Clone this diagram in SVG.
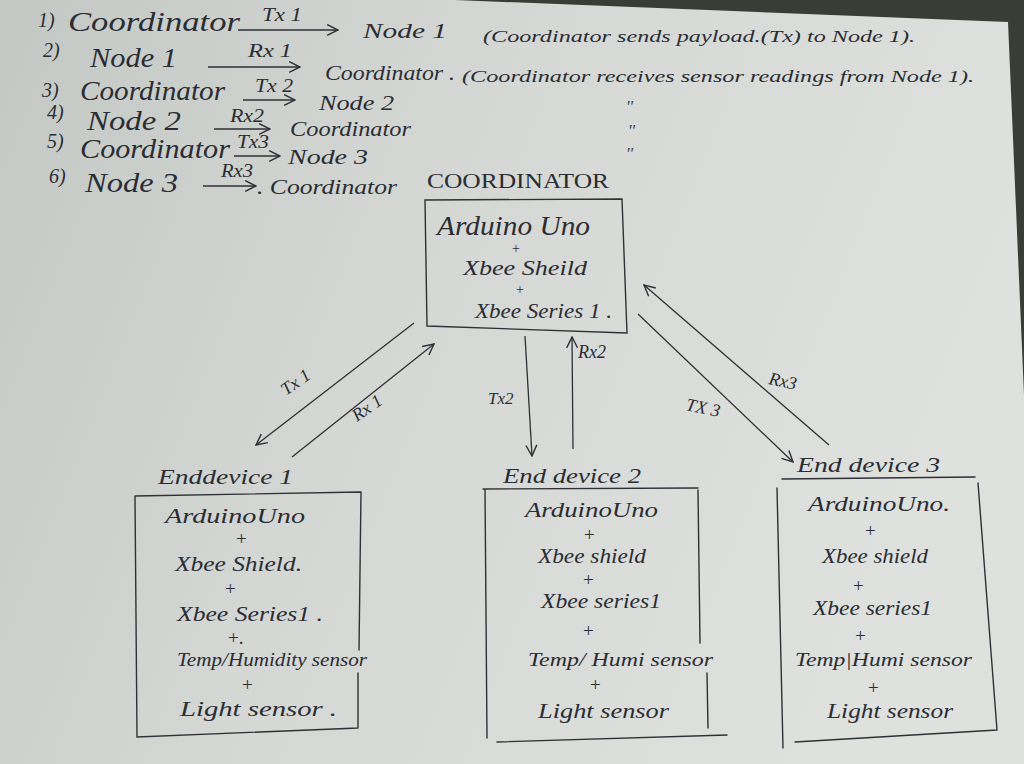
<svg xmlns="http://www.w3.org/2000/svg" width="1024" height="764" viewBox="0 0 1024 764">
<defs>
<linearGradient id="paper" x1="0" y1="0" x2="1" y2="0.3">
<stop offset="0" stop-color="#c4c8c4"/>
<stop offset="0.45" stop-color="#d4d7d3"/>
<stop offset="1" stop-color="#dfe1de"/>
</linearGradient>
<marker id="ah" viewBox="0 0 12 12" refX="11" refY="6" markerWidth="13" markerHeight="13" markerUnits="userSpaceOnUse" orient="auto">
<path d="M1,1 L11,6 L1,11" fill="none" stroke="#2d2f36" stroke-width="1.3"/>
</marker>
<style>
text{font-family:"Liberation Serif","DejaVu Serif",serif;font-style:italic;fill:#2b2d34}
.n{font-size:20px}
.big{font-size:27px}
.mid{font-size:22px}
.sm{font-size:18px}
.xs{font-size:17px}
.pl{font-size:16px}
.tp{font-size:14px;font-style:normal}
.plus{font-size:19px;font-style:normal}
.cap{font-style:normal;font-size:22px}
.ln{fill:none;stroke:#2f3137;stroke-width:1.4;stroke-linecap:round}
.ar{fill:none;stroke:#2f3137;stroke-width:1.3;marker-end:url(#ah)}
</style>
</defs>
<rect x="0" y="0" width="1024" height="764" fill="url(#paper)"/>
<polygon points="455,0 1024,0 1024,395 1008,22" fill="#3a3d35"/>

<g id="legend">
<text x="38" y="27" class="n">1)</text>
<text x="68" y="31" class="big" textLength="172" lengthAdjust="spacingAndGlyphs">Coordinator</text>
<text x="262" y="21" class="sm" textLength="40" lengthAdjust="spacingAndGlyphs">Tx 1</text>
<text x="363" y="38" class="mid" textLength="84" lengthAdjust="spacingAndGlyphs">Node 1</text>
<text x="483" y="42" class="xs" textLength="432" lengthAdjust="spacingAndGlyphs">(Coordinator sends payload.(Tx) to Node 1).</text>

<text x="43" y="57" class="n">2)</text>
<text x="90" y="67" class="big" textLength="87" lengthAdjust="spacingAndGlyphs">Node 1</text>
<text x="248" y="57" class="sm" textLength="44" lengthAdjust="spacingAndGlyphs">Rx 1</text>
<text x="325" y="80" class="mid" textLength="130" lengthAdjust="spacingAndGlyphs">Coordinator .</text>
<text x="462" y="82" class="xs" textLength="512" lengthAdjust="spacingAndGlyphs">(Coordinator receives sensor readings from Node 1).</text>

<text x="42" y="97" class="n">3)</text>
<text x="80" y="100" class="big" textLength="145" lengthAdjust="spacingAndGlyphs">Coordinator</text>
<text x="255" y="92" class="sm" textLength="38" lengthAdjust="spacingAndGlyphs">Tx 2</text>
<text x="319" y="110" class="mid" textLength="75" lengthAdjust="spacingAndGlyphs">Node 2</text>
<text x="626" y="112" class="pl">''</text>

<text x="47" y="119" class="n">4)</text>
<text x="87" y="130" class="big" textLength="94" lengthAdjust="spacingAndGlyphs">Node 2</text>
<text x="230" y="122" class="sm" textLength="34" lengthAdjust="spacingAndGlyphs">Rx2</text>
<text x="290" y="136" class="mid" textLength="121" lengthAdjust="spacingAndGlyphs">Coordinator</text>
<text x="628" y="136" class="pl">''</text>

<text x="47" y="148" class="n">5)</text>
<text x="80" y="158" class="big" textLength="150" lengthAdjust="spacingAndGlyphs">Coordinator</text>
<text x="237" y="148" class="sm" textLength="32" lengthAdjust="spacingAndGlyphs">Tx3</text>
<text x="288" y="164" class="mid" textLength="80" lengthAdjust="spacingAndGlyphs">Node 3</text>
<text x="626" y="159" class="pl">''</text>

<text x="49" y="183" class="n">6)</text>
<text x="85" y="192" class="big" textLength="93" lengthAdjust="spacingAndGlyphs">Node 3</text>
<text x="221" y="177" class="sm" textLength="32" lengthAdjust="spacingAndGlyphs">Rx3</text>
<text x="257" y="194" class="mid" textLength="140" lengthAdjust="spacingAndGlyphs">. Coordinator</text>
</g>

<g id="coordinator">
<text x="427" y="188" class="cap" textLength="182" lengthAdjust="spacingAndGlyphs">COORDINATOR</text>
<path class="ln" d="M425,200 L622,199 L627,333 L427,326 Z"/>
<text x="437" y="235" class="big" textLength="153" lengthAdjust="spacingAndGlyphs">Arduino Uno</text>
<text x="512" y="253" class="tp">+</text>
<text x="463" y="275" class="mid" textLength="124" lengthAdjust="spacingAndGlyphs">Xbee Sheild</text>
<text x="516" y="294" class="tp">+</text>
<text x="475" y="318" class="mid" textLength="137" lengthAdjust="spacingAndGlyphs">Xbee Series 1 .</text>
</g>

<g id="end-device-1">
<text x="158" y="484" class="mid" textLength="135" lengthAdjust="spacingAndGlyphs">Enddevice 1</text>
<path class="ln" d="M135,496 L361,492 M135,496 L137,737 L358,728 M361,492 L359,650 M358,673 L358,728"/>
<text x="165" y="523" class="mid" textLength="140" lengthAdjust="spacingAndGlyphs">ArduinoUno</text>
<text x="236" y="545" class="plus">+</text>
<text x="175" y="571" class="mid" textLength="127" lengthAdjust="spacingAndGlyphs">Xbee Shield.</text>
<text x="225" y="595" class="plus">+</text>
<text x="177" y="621" class="mid" textLength="146" lengthAdjust="spacingAndGlyphs">Xbee Series1 .</text>
<text x="228" y="644" class="plus">+.</text>
<text x="177" y="666" class="sm" textLength="190" lengthAdjust="spacingAndGlyphs">Temp/Humidity sensor</text>
<text x="242" y="691" class="plus">+</text>
<text x="180" y="716" class="mid" textLength="157" lengthAdjust="spacingAndGlyphs">Light sensor .</text>
</g>

<g id="end-device-2">
<text x="503" y="483" class="mid" textLength="138" lengthAdjust="spacingAndGlyphs">End device 2</text>
<path class="ln" d="M483,489 L698,488 M485,489 L487,738 M698,490 L700,643 M707,673 L708,728 M497,742 L727,735"/>
<text x="525" y="517" class="mid" textLength="133" lengthAdjust="spacingAndGlyphs">ArduinoUno</text>
<text x="584" y="541" class="plus">+</text>
<text x="538" y="563" class="mid" textLength="108" lengthAdjust="spacingAndGlyphs">Xbee shield</text>
<text x="583" y="586" class="plus">+</text>
<text x="541" y="608" class="mid" textLength="120" lengthAdjust="spacingAndGlyphs">Xbee series1</text>
<text x="583" y="637" class="plus">+</text>
<text x="528" y="666" class="sm" textLength="185" lengthAdjust="spacingAndGlyphs">Temp/ Humi sensor</text>
<text x="590" y="691" class="plus">+</text>
<text x="538" y="718" class="mid" textLength="131" lengthAdjust="spacingAndGlyphs">Light sensor</text>
</g>

<g id="end-device-3">
<text x="797" y="472" class="mid" textLength="143" lengthAdjust="spacingAndGlyphs">End device 3</text>
<path class="ln" d="M782,479 L975,477 M777,488 L783,748 M978,483 L997,730 M795,742 L997,730"/>
<text x="808" y="511" class="mid" textLength="142" lengthAdjust="spacingAndGlyphs">ArduinoUno.</text>
<text x="865" y="537" class="plus">+</text>
<text x="822" y="563" class="mid" textLength="106" lengthAdjust="spacingAndGlyphs">Xbee shield</text>
<text x="853" y="592" class="plus">+</text>
<text x="813" y="615" class="mid" textLength="119" lengthAdjust="spacingAndGlyphs">Xbee series1</text>
<text x="855" y="642" class="plus">+</text>
<text x="795" y="666" class="sm" textLength="177" lengthAdjust="spacingAndGlyphs">Temp|Humi sensor</text>
<text x="868" y="694" class="plus">+</text>
<text x="827" y="718" class="mid" textLength="126" lengthAdjust="spacingAndGlyphs">Light sensor</text>
</g>

<g id="connectors">
<line class="ar" x1="238" y1="30" x2="338" y2="30"/>
<line class="ar" x1="208" y1="67" x2="300" y2="67"/>
<line class="ar" x1="243" y1="100" x2="295" y2="100"/>
<line class="ar" x1="214" y1="129" x2="270" y2="129"/>
<line class="ar" x1="234" y1="156" x2="280" y2="156"/>
<line class="ar" x1="203" y1="186" x2="256" y2="186"/>

<line class="ar" x1="414" y1="323" x2="256" y2="445"/>
<line class="ar" x1="292" y1="457" x2="434" y2="344"/>
<line class="ar" x1="525" y1="336" x2="532" y2="456"/>
<line class="ar" x1="573" y1="449" x2="572" y2="337"/>
<line class="ar" x1="638" y1="314" x2="793" y2="462"/>
<line class="ar" x1="829" y1="445" x2="644" y2="285"/>

<text class="sm" transform="translate(286,396) rotate(-35)">Tx 1</text>
<text class="sm" transform="translate(357,422) rotate(-35)">Rx 1</text>
<text class="xs" x="488" y="404">Tx2</text>
<text class="sm" x="578" y="358">Rx2</text>
<text class="sm" transform="translate(685,410) rotate(12)">TX 3</text>
<text class="sm" transform="translate(768,384) rotate(12)">Rx3</text>
</g>
</svg>
